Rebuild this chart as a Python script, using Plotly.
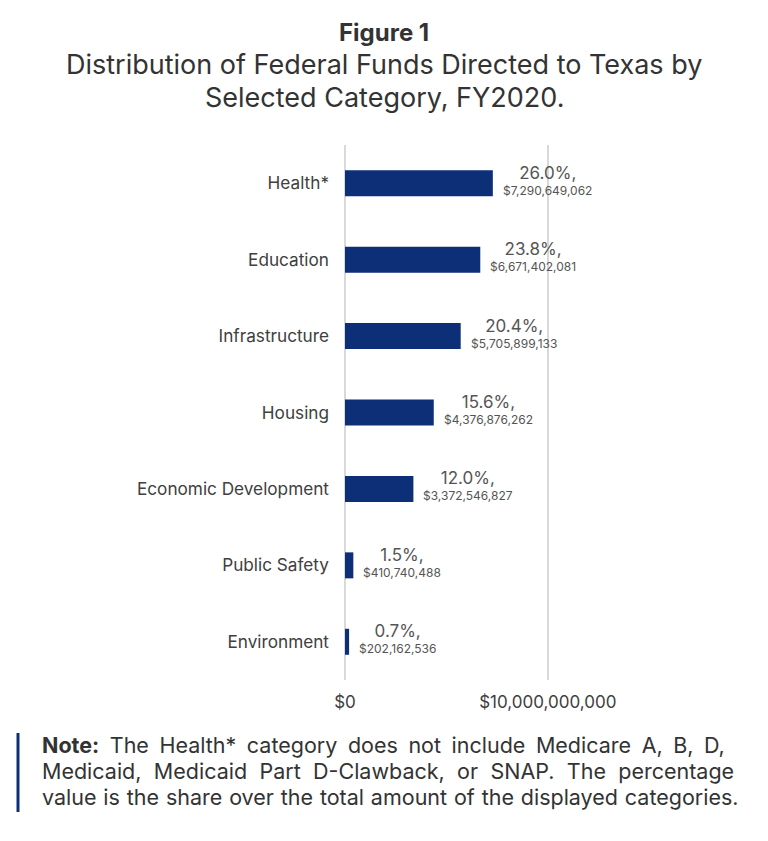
import plotly.graph_objects as go

categories = ["Health*", "Education", "Infrastructure", "Housing",
              "Economic Development", "Public Safety", "Environment"]
amounts = [7290649062, 6671402081, 5705899133, 4376876262,
           3372546827, 410740488, 202162536]
shares = [26.0, 23.8, 20.4, 15.6, 12.0, 1.5, 0.7]

title_lines = ["<b>Figure 1</b>",
               "Distribution of Federal Funds Directed to Texas by",
               "Selected Category, FY2020."]
note_lines = ["<b>Note:</b> The Health* category does not include Medicare A, B, D,",
              "Medicaid, Medicaid Part D-Clawback, or SNAP. The percentage",
              "value is the share over the total amount of the displayed categories."]
note_spacing = [4.5, 6.3, 0.8]  # extra word spacing to mimic justified text

navy = "#0d2f78"
grey_text = "#404040"
font = "Inter, Roboto, sans-serif"

# plot area in page pixels (page adds an 8px body margin)
L, R, T, B = 337, 702, 137, 672
W, H = 768, 841
pw, ph = R - L, B - T


def px(x, y):
    # screen pixel -> paper coords
    return (x - 8 - L) / pw, (B - (y - 8)) / ph


fig = go.Figure()
fig.add_trace(go.Bar(
    y=categories, x=amounts, orientation="h",
    marker=dict(color=navy, line=dict(width=0)),
    width=0.34, hoverinfo="x+y",
))

# value labels to the right of each bar
for cat, amt, pct in zip(categories, amounts, shares):
    fig.add_annotation(
        x=amt, y=cat, xref="x", yref="y",
        xanchor="left", yanchor="middle", align="center",
        xshift=8, yshift=3, showarrow=False,
        text=f"<span style='font-size:17px'>{pct:.1f}%,</span><br>"
             f"<span style='font-size:12px'>${amt:,}</span>",
        font=dict(family=font, color="#555555"),
    )

# title block
for line, sy, size in zip(title_lines, [33, 65, 97], [24, 27, 27]):
    x, y = px(384, sy)
    fig.add_annotation(
        x=x, y=y, xref="paper", yref="paper", xanchor="center", yanchor="middle",
        showarrow=False, text=line,
        font=dict(family=font, size=size, color="#333333"),
    )

# note block
for line, sy, ws in zip(note_lines, [745, 771, 797], note_spacing):
    x, y = px(40, sy)
    fig.add_annotation(
        x=x, y=y, xref="paper", yref="paper", xanchor="left", yanchor="middle",
        showarrow=False, text=f"<span style='word-spacing:{ws}px'>{line}</span>",
        font=dict(family=font, size=21.5, color="#333333"),
    )

x0, y0 = px(18, 733)
x1, y1 = px(18, 812)
fig.add_shape(
    type="line", xref="paper", yref="paper",
    x0=x0, x1=x1, y0=y0, y1=y1,
    line=dict(color=navy, width=3),
)

fig.update_layout(
    width=W, height=H,
    margin=dict(l=L, r=W - R, t=T, b=H - B),
    paper_bgcolor="white", plot_bgcolor="white",
    showlegend=False,
    font=dict(family=font, color=grey_text),
    xaxis=dict(
        range=[0, 18e9], tickvals=[0, 1e10],
        ticktext=["$0", "$10,000,000,000"],
        showgrid=True, gridcolor="#d9d9d9", gridwidth=2,
        zeroline=True, zerolinecolor="#d9d9d9", zerolinewidth=2,
        showline=False, ticks="",
        tickfont=dict(size=17, color=grey_text), ticklabelstandoff=10,
    ),
    yaxis=dict(
        categoryorder="array", categoryarray=categories, autorange="reversed",
        showgrid=False, zeroline=False, showline=False, ticks="",
        tickfont=dict(size=17.2, color=grey_text), ticklabelstandoff=15,
    ),
)

fig.write_html("out.html")
